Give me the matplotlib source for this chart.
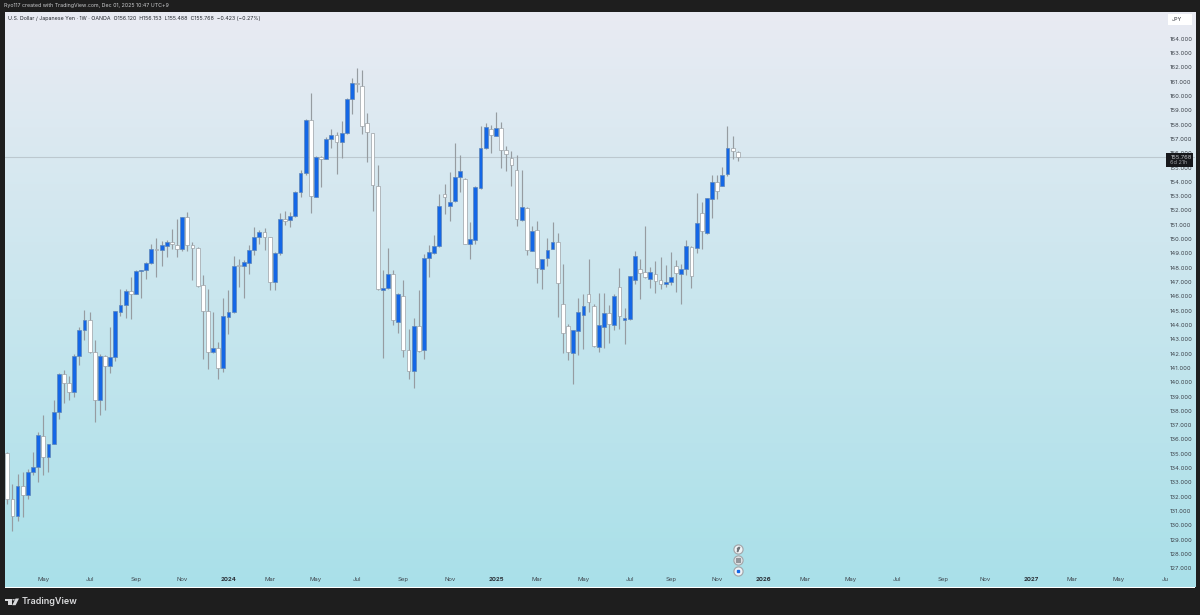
import numpy as np
import pandas as pd
import matplotlib
matplotlib.use("Agg")
import matplotlib.pyplot as plt
import matplotlib.dates as mdates
from matplotlib.patches import Rectangle, Polygon, Circle
from matplotlib.colors import LinearSegmentedColormap

plt.rcParams['font.family'] = ['Inter', 'DejaVu Sans']

# weekly bars
opens = [135.07, 131.81, 130.67, 132.76, 132.11, 133.72, 134.07, 136.24, 134.79, 135.70,
         137.92, 140.60, 139.94, 139.32, 141.83, 143.65, 144.33, 142.14, 138.76, 141.81,
         141.13, 141.74, 144.93, 145.38, 146.40, 146.19, 147.75, 147.82, 148.34, 149.34,
         149.27, 149.55, 149.83, 149.62, 149.34, 151.51, 149.62, 149.41, 146.78, 144.96,
         142.09, 142.42, 141.00, 144.58, 144.89, 148.17, 148.15, 148.36, 149.25, 150.18,
         150.51, 150.13, 147.03, 149.04, 151.41, 151.32, 151.60, 153.28, 154.61, 158.34,
         152.95, 155.75, 155.61, 156.99, 157.29, 156.75, 157.38, 159.76, 160.88, 160.71,
         158.13, 157.40, 153.72, 146.45, 146.61, 147.59, 144.21, 146.05, 142.27, 140.76,
         143.90, 142.25, 148.68, 149.03, 149.50, 153.18, 152.30, 152.65, 154.37, 154.21,
         149.66, 149.94, 153.58, 156.35, 157.70, 157.22, 157.77, 156.24, 155.70, 154.86,
         151.32, 152.20, 149.20, 150.66, 147.91, 148.71, 149.34, 149.80, 145.47, 143.93,
         142.04, 143.58, 144.70, 146.17, 145.30, 142.48, 143.83, 144.86, 144.00, 146.68,
         144.32, 144.39, 147.17, 147.94, 147.73, 147.24, 147.54, 147.17, 146.84, 146.98,
         148.15, 147.59, 147.89, 149.45, 149.36, 151.85, 150.43, 152.83, 153.99, 153.72,
         154.56, 156.40, 156.120]
highs = [135.10, 132.91, 133.56, 133.72, 133.95, 135.12, 136.52, 137.73, 135.70, 138.73,
         140.64, 140.83, 140.41, 142.00, 143.86, 145.07, 144.91, 142.97, 142.00, 141.88,
         143.86, 145.00, 146.54, 146.54, 147.36, 147.82, 147.86, 148.41, 149.69, 150.11,
         149.87, 149.97, 150.74, 151.40, 151.55, 151.90, 149.81, 149.45, 147.47, 146.54,
         144.91, 142.81, 145.91, 146.43, 148.80, 148.64, 148.52, 149.57, 150.86, 150.62,
         150.81, 150.16, 149.11, 151.83, 151.97, 151.90, 153.35, 154.82, 158.36, 160.23,
         155.80, 155.80, 157.10, 157.66, 157.50, 158.24, 159.83, 161.23, 161.93, 161.81,
         158.83, 157.43, 155.21, 147.87, 149.41, 147.83, 146.24, 147.17, 143.74, 144.49,
         146.42, 148.99, 149.57, 150.27, 153.18, 153.88, 154.70, 156.73, 155.86, 154.25,
         151.20, 153.70, 157.89, 158.08, 157.96, 158.85, 158.15, 156.49, 156.17, 155.86,
         154.81, 152.25, 150.90, 151.27, 148.64, 150.11, 151.20, 150.46, 148.29, 144.05,
         143.67, 145.91, 146.14, 148.64, 145.49, 146.26, 146.24, 145.37, 146.19, 148.01,
         145.21, 147.43, 149.17, 148.64, 150.90, 148.05, 148.47, 148.75, 148.17, 149.10,
         148.52, 148.29, 149.97, 149.50, 153.23, 152.60, 152.90, 154.46, 154.46, 155.05,
         157.89, 157.19, 156.153]
lows = [131.51, 129.64, 130.34, 130.57, 131.83, 133.49, 133.02, 133.49, 133.72, 135.66,
        137.45, 138.55, 138.73, 138.97, 141.18, 142.93, 142.05, 137.22, 137.68, 138.03,
        140.64, 141.48, 144.61, 144.51, 144.42, 146.15, 145.89, 147.24, 148.29, 147.36,
        148.13, 148.76, 149.34, 148.76, 149.18, 149.18, 147.13, 146.66, 141.65, 140.95,
        142.04, 140.25, 140.71, 143.40, 144.84, 146.66, 145.91, 147.59, 148.87, 149.64,
        149.22, 146.43, 146.47, 148.87, 150.97, 150.86, 151.55, 152.95, 154.47, 151.83,
        152.91, 153.61, 155.59, 156.36, 154.58, 155.70, 157.34, 158.73, 160.30, 157.34,
        155.40, 151.95, 146.43, 141.69, 146.54, 144.02, 143.44, 141.76, 140.25, 139.59,
        142.11, 141.65, 147.36, 148.99, 149.45, 151.78, 151.27, 152.60, 153.30, 149.64,
        148.64, 149.69, 153.53, 156.33, 156.03, 157.19, 154.95, 154.77, 153.70, 150.90,
        151.27, 148.87, 149.15, 146.94, 146.54, 148.13, 149.29, 144.56, 142.04, 141.57,
        139.90, 141.92, 142.32, 144.91, 142.46, 142.11, 142.41, 142.76, 143.63, 143.69,
        142.69, 144.32, 146.84, 145.84, 147.31, 146.61, 146.24, 146.54, 146.66, 146.77,
        146.31, 145.49, 147.47, 146.59, 149.03, 149.34, 150.34, 151.50, 152.81, 153.70,
        154.39, 155.63, 155.488]
closes = [131.81, 130.67, 132.76, 132.11, 133.72, 134.09, 136.28, 134.79, 135.70, 137.94,
          140.60, 139.94, 139.32, 141.86, 143.65, 144.33, 142.11, 138.76, 141.81, 141.13,
          141.74, 144.96, 145.38, 146.40, 146.19, 147.75, 147.82, 148.34, 149.34, 149.27,
          149.57, 149.83, 149.64, 149.34, 151.51, 149.62, 149.41, 146.75, 144.96, 142.11,
          142.42, 141.02, 144.61, 144.89, 148.15, 148.13, 148.38, 149.27, 150.18, 150.48,
          150.13, 147.03, 149.04, 151.41, 151.30, 151.60, 153.30, 154.63, 158.34, 152.98,
          155.75, 155.63, 156.99, 157.29, 156.75, 157.38, 159.81, 160.88, 160.81, 157.87,
          157.45, 153.75, 146.52, 146.61, 147.59, 144.37, 146.19, 142.27, 140.78, 143.90,
          142.18, 148.66, 149.08, 149.50, 152.30, 152.97, 152.60, 154.33, 154.75, 149.69,
          150.01, 153.63, 156.40, 157.82, 157.26, 157.73, 156.24, 155.96, 155.19, 151.39,
          152.27, 149.27, 150.60, 148.01, 148.59, 149.27, 149.83, 146.96, 143.44, 142.13,
          143.63, 144.93, 145.35, 145.61, 142.53, 144.02, 144.81, 144.09, 146.05, 144.63,
          144.46, 147.40, 148.82, 147.66, 147.38, 147.70, 147.10, 146.89, 147.03, 147.38,
          147.63, 147.94, 149.50, 147.45, 151.13, 150.60, 152.86, 153.99, 153.39, 154.51,
          156.40, 156.17, 155.768]

first_bar = '2023-03-13'
last_price = 155.768
price_ticks = list(range(127, 165))
month_dates = ['2023-05-01', '2023-07-03', '2023-09-04', '2023-11-06', '2024-01-08', '2024-03-04',
               '2024-05-06', '2024-07-01', '2024-09-02', '2024-11-04', '2025-01-06', '2025-03-03',
               '2025-05-05', '2025-07-07', '2025-09-01', '2025-11-03', '2026-01-05', '2026-03-02',
               '2026-05-04', '2026-07-06', '2026-09-07', '2026-11-02', '2027-01-04', '2027-03-01',
               '2027-05-03', '2027-07-05']
month_labels = ['May', 'Jul', 'Sep', 'Nov', '2024', 'Mar', 'May', 'Jul', 'Sep', 'Nov', '2025', 'Mar',
                'May', 'Jul', 'Sep', 'Nov', '2026', 'Mar', 'May', 'Jul', 'Sep', 'Nov', '2027', 'Mar',
                'May', 'Ju']
event_prices = [128.36, 127.59, 126.84]

BLUE = '#1467e6'
DARK = '#1e1e1e'
TICK = '#3f454d'

opens, highs, lows, closes = map(np.array, (opens, highs, lows, closes))
dates = mdates.date2num(pd.date_range(first_bar, periods=len(opens), freq='7D'))

W, H = 1200, 615
fig = plt.figure(figsize=(W / 100, H / 100), dpi=100, facecolor=DARK)
ax = fig.add_axes([4.5 / W, 1 - 587.5 / H, 1190.5 / W, 575.5 / H])

# px per bar measured on the chart, used to place the limits
bar_px = 5.144
x0 = dates[0] - (7.3 - 4.5) / bar_px * 7
x1 = dates[0] + (1195 - 7.3) / bar_px * 7
y0, y1 = 125.66, 165.867

cmap = LinearSegmentedColormap.from_list('bg', ['#e9ebf3', '#c9e6ee', '#a9e0e9'])
ax.imshow(np.linspace(0, 1, 256).reshape(-1, 1), cmap=cmap, aspect='auto',
          extent=(x0, x1, y0, y1), origin='upper', zorder=0)

ax.axhline(last_price, color='#9aa3a8', lw=0.8, alpha=0.45, zorder=1)

up = closes >= opens
ax.vlines(dates, lows, highs, color='#969ca1', lw=0.85, zorder=2)
ax.bar(dates, np.abs(closes - opens), bottom=np.minimum(opens, closes), width=5.2,
       color=np.where(up, BLUE, 'white'), edgecolor=np.where(up, '#5f86b8', '#9ba1a6'),
       linewidth=0.5, zorder=3)

# event badges above the time scale
ax.plot([dates[-1]] * 3, event_prices, ls='none', marker='o', ms=6.6, mfc='#f1f3f5',
        mec='#a5a9ad', mew=0.9, zorder=4)
ax.plot(dates[-1], event_prices[1], marker='s', ms=2.4, color='#92969b', zorder=5)
ax.plot(dates[-1], event_prices[0], marker='$f$', ms=3, color='#70757a', zorder=5)
ax.plot(dates[-1], event_prices[2], marker='s', ms=2, color=BLUE, zorder=5)

ax.set_xlim(x0, x1)
ax.set_ylim(y0, y1)
for s in ax.spines.values():
    s.set_visible(False)

ax.yaxis.tick_right()
ax.set_yticks(price_ticks)
ax.set_yticklabels([f'{p}.000' for p in price_ticks])
ax.tick_params(axis='y', length=0, pad=-18, labelsize=4.3, labelcolor=TICK)

ax.set_xticks(mdates.date2num(pd.to_datetime(month_dates)))
ax.set_xticklabels(month_labels)
ax.tick_params(axis='x', length=0, pad=-7.5, labelsize=4.3, labelcolor=TICK)
for lab in ax.get_xticklabels():
    if lab.get_text().isdigit():
        lab.set_fontweight('bold')
        lab.set_color('#2a2e35')


def px(x, y):
    return x / W, 1 - y / H


fig.text(*px(4, 6), 'Ryo117 created with TradingView.com, Dec 01, 2025 10:47 UTC+9', color='#c9cacc',
         fontsize=3.8, va='center', ha='left')
fig.text(*px(8, 18.7), 'U.S. Dollar / Japanese Yen · 1W · OANDA  O156.120  H156.153  L155.488  C155.768  '
         '−0.423 (−0.27%)', color='#23272e', fontsize=3.8, va='center', ha='left')

# currency box
fig.add_artist(Rectangle(px(1168, 25), 24 / W, 11 / H, transform=fig.transFigure,
                         fc='white', ec='none', zorder=6))
fig.text(*px(1172, 19.3), 'JPY', color='#23272e', fontsize=3.85, va='center', ha='left', zorder=7)

# last price tag
fig.add_artist(Rectangle(px(1166, 167), 27 / W, 14 / H, transform=fig.transFigure,
                         fc='#16181c', ec='none', zorder=6))
fig.text(*px(1170.5, 157), '155.768', color='#c5c7cb', fontsize=4.2, va='center', ha='left', zorder=7)
fig.text(*px(1170.5, 163), '6d 21h', color='#9a9da2', fontsize=4, va='center', ha='left', zorder=7)

# TradingView logo and wordmark
logo_color = '#d9dadc'
fig.add_artist(Polygon([px(5.3, 598.5), px(11.8, 598.5), px(11.8, 605.2), px(8.4, 605.2),
                        px(8.4, 601.2), px(5.3, 601.2)], transform=fig.transFigure, fc=logo_color, ec='none'))
fig.add_artist(Circle(px(13.6, 599.8), 1.3 / W, transform=fig.transFigure, fc=logo_color, ec='none'))
fig.add_artist(Polygon([px(15.6, 598.5), px(19, 598.5), px(15.6, 605.2), px(12.2, 605.2)],
                       transform=fig.transFigure, fc=logo_color, ec='none'))
fig.text(*px(22, 602), 'TradingView', color=logo_color, fontsize=6.5, fontweight='semibold',
         va='center', ha='left')

fig.savefig('out.png', dpi=100, facecolor=DARK)
